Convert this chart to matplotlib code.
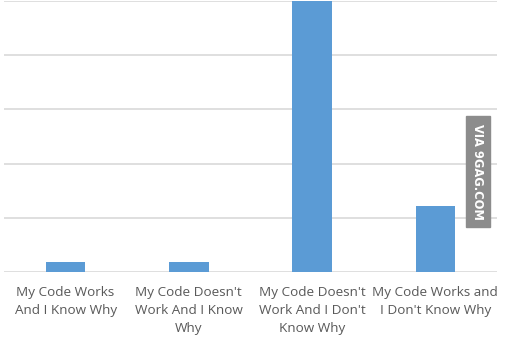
import matplotlib.pyplot as plt
from matplotlib.patches import Rectangle

# values (axis max = 100, grid every 20)
categories = [
    "My Code Works\nAnd I Know Why",
    "My Code Doesn't\nWork And I Know\nWhy",
    "My Code Doesn't\nWork And I Don't\nKnow Why",
    "My Code Works and\nI Don't Know Why",
]
values = [3.7, 3.7, 100, 24.4]

W, H = 506, 344
fig = plt.figure(figsize=(W / 100, H / 100), dpi=100)
ax = fig.add_axes([4 / W, 72 / H, 493 / W, 271 / H])

x = range(len(categories))
ax.bar(x, values, width=0.32, color='#5b9bd5', zorder=2)
ax.set_xlim(-0.5, len(categories) - 0.5)
ax.set_ylim(0, 100)
ax.set_yticks([0, 20, 40, 60, 80, 100])
ax.yaxis.grid(True, color='#d9d9d9', linewidth=1.2, zorder=0)
ax.tick_params(axis='y', length=0, labelleft=False)
ax.tick_params(axis='x', length=0, pad=10)
ax.set_xticks(list(x))
ax.set_xticklabels(categories, fontsize=9.7, color='#595959', family='Open Sans',
                   linespacing=1.5, va='top')
for s in ax.spines.values():
    s.set_visible(False)

# watermark
fig.patches.append(Rectangle((466 / W, 1 - 227 / H), 24 / W, 111 / H,
                             transform=fig.transFigure, color='#8c8c8c', zorder=5))
fig.text(478 / W, 1 - 171.5 / H, 'VIA 9GAG.COM', rotation=-90, ha='center', va='center',
         color='white', fontsize=8.3, fontweight='bold',
         family=['Liberation Sans Narrow', 'DejaVu Sans'], zorder=6)

fig.savefig('out.png', dpi=100)
